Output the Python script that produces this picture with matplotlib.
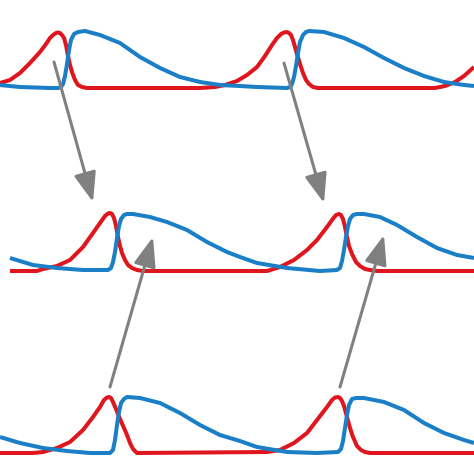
import matplotlib
matplotlib.use("Agg")
import matplotlib.pyplot as plt

# Waveform traces (x, y in picture pixels, y grows downward)

# row 1 (top)
red1_x = [0, 10, 20, 30, 40, 46, 50, 53, 56, 58, 60, 62, 64, 66, 68, 70, 72, 75, 78, 82, 87,
          200, 215, 225, 237, 247, 257, 265, 272, 277, 281, 284, 287, 289, 291, 293, 295, 297,
          300, 303, 306, 309, 313, 318, 435, 445, 455, 464, 474]
red1_y = [83, 80, 73, 63, 52, 44, 38, 35, 33, 32.5, 33, 35, 38, 45, 56, 65, 72, 80, 85, 87, 88,
          88, 87, 85, 81, 75, 67, 56, 45, 38, 34, 32.5, 32, 33, 35, 40, 47, 54,
          64, 73, 80, 84, 87, 88, 88, 86, 82, 76, 67]
blue1_x = [0, 20, 50, 58, 61, 63, 65, 67, 69, 71, 74, 78, 85, 100, 120, 140, 160, 180, 200, 220, 240,
           257, 287, 290, 292, 294, 296, 298, 300, 303, 306, 309, 324, 344, 364, 384, 404, 424, 444,
           464, 474]
blue1_y = [85, 87, 88, 88, 87, 84, 76, 64, 50, 40, 34, 32, 31, 35, 43, 57, 68, 77, 82, 85, 86,
           87, 88, 87, 84, 77, 66, 53, 42, 35, 32, 31, 32, 38, 47, 58, 68, 76, 82,
           85, 86]

# row 2 (middle)
red2_x = [10, 37, 43, 57, 70, 83, 93, 100, 105, 108, 110, 112, 114, 116, 118, 120, 122, 125, 128,
          132, 137, 143, 267, 280, 294, 307, 317, 327, 332, 336, 339, 341, 343, 345, 347, 349, 352,
          356, 360, 365, 370, 377, 474]
red2_y = [271, 271, 269, 266, 260, 247, 233, 223, 216, 213.5, 213, 214, 218, 226, 237, 246, 253, 260, 265,
          268, 270, 271, 271, 267, 260, 250, 240, 227, 220, 215, 214, 215, 219, 227, 237, 246, 254,
          262, 266, 269, 270, 271, 271]
blue2_x = [10, 33, 57, 83, 108, 111, 113, 115, 117, 119, 121, 124, 127, 133, 150, 167, 187, 207, 227,
           240, 257, 287, 320, 337, 340, 342, 344, 346, 348, 350, 353, 357, 364, 380, 397, 417, 437,
           457, 474]
blue2_y = [258, 265, 268, 270, 270, 268, 262, 252, 238, 226, 219, 215, 214, 214, 217, 222, 230, 242, 252,
           257, 263, 268, 271, 270, 268, 261, 250, 237, 226, 219, 215, 214, 214, 217, 225, 237, 248,
           255, 258]

# row 3 (bottom)
red3_x = [0, 33, 43, 57, 70, 83, 93, 100, 104, 107, 109, 111, 113, 116, 120, 124, 127, 130, 133, 137,
          267, 280, 294, 307, 317, 327, 332, 335, 338, 340, 342, 344, 347, 350, 353, 357, 361, 365, 370,
          474]
red3_y = [453, 453, 452, 448, 442, 430, 417, 407, 400, 397.5, 397, 398, 402, 409, 419, 428, 435, 443, 449, 453,
          452, 450, 443, 433, 420, 407, 400, 397.5, 397, 398, 401, 406, 417, 428, 437, 446, 450, 452, 453,
          453]
blue3_x = [0, 20, 43, 67, 90, 110, 113, 115, 117, 119, 121, 124, 127, 140, 160, 180, 200, 220, 240,
           257, 287, 317, 338, 341, 343, 345, 347, 349, 352, 356, 364, 384, 404, 424, 444, 464, 474]
blue3_y = [437, 443, 448, 451, 453, 453, 450, 440, 425, 412, 403, 399, 397, 398, 403, 413, 425, 435, 441,
           447, 452, 453, 452, 449, 441, 428, 415, 405, 399, 398, 398, 402, 410, 423, 433, 440, 443]

# gray arrows: (tail x, tail y, tip x, tip y)
arrow_tail_x = [54, 284, 110, 340]
arrow_tail_y = [62, 63, 387, 387]
arrow_tip_x = [93, 324, 153, 384]
arrow_tip_y = [202, 203, 237, 235]

RED = "#e0161e"
BLUE = "#1a7fc6"
GRAY = "#808080"

fig = plt.figure(figsize=(4.74, 4.74), dpi=100)
ax = fig.add_axes([0, 0, 1, 1])

for xs, ys in [(red1_x, red1_y), (red2_x, red2_y), (red3_x, red3_y)]:
    ax.plot(xs, ys, color=RED, lw=2.9, solid_joinstyle="round", solid_capstyle="butt")
for xs, ys in [(blue1_x, blue1_y), (blue2_x, blue2_y), (blue3_x, blue3_y)]:
    ax.plot(xs, ys, color=BLUE, lw=2.9, solid_joinstyle="round", solid_capstyle="butt")

for x0, y0, x1, y1 in zip(arrow_tail_x, arrow_tail_y, arrow_tip_x, arrow_tip_y):
    ax.annotate("", xy=(x1, y1), xytext=(x0, y0),
                arrowprops=dict(arrowstyle="-|>,head_length=0.9,head_width=0.34",
                                mutation_scale=20, lw=2.2, color=GRAY,
                                shrinkA=0, shrinkB=0))

ax.set_xlim(0, 474)
ax.set_ylim(474, 0)
ax.axis("off")

fig.savefig("out.png", dpi=100)
plt.close(fig)
